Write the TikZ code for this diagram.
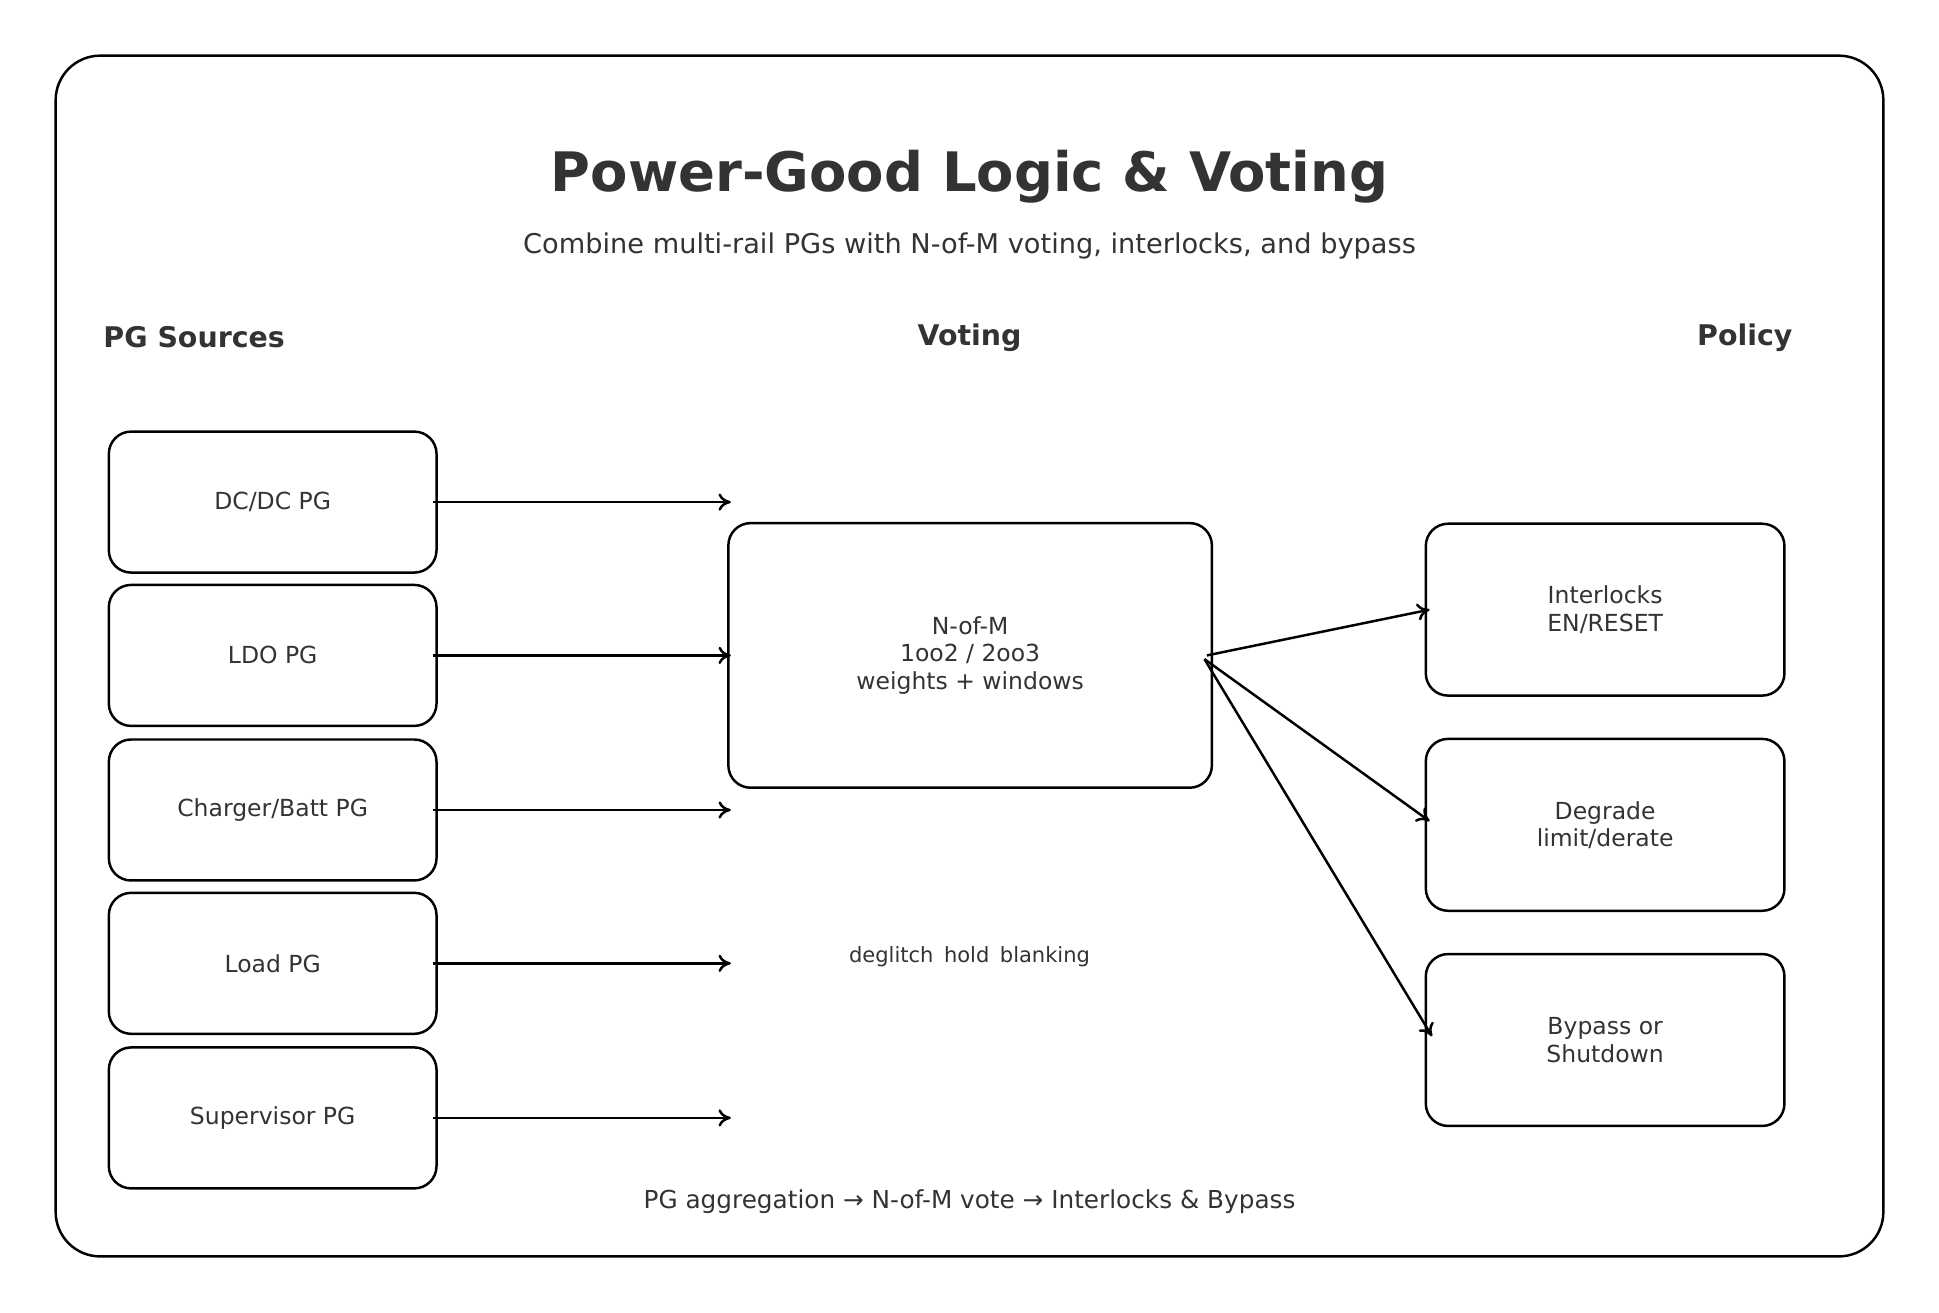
\documentclass[tikz,border=0pt]{standalone}
\usepackage{fontspec}
\setmainfont{DejaVu Sans}
\usetikzlibrary{arrows.meta}
\definecolor{txt}{HTML}{333333}
\begin{document}
\begin{tikzpicture}[x=0.5pt,y=-0.5pt,
  box/.style={draw=black,line width=1pt,rounded corners=9pt,text=txt,font=\fontsize{9.5}{11}\selectfont,align=center,inner sep=0pt},
  arr/.style={line width=1pt,-{To[length=5pt,width=7pt]}},
  lbl/.style={text=txt,align=center}]
\useasboundingbox (0,0) rectangle (1568,1061);
\fill[white] (0,0) rectangle (1568,1061);
\draw[line width=1pt,rounded corners=18pt] (45,45) rectangle (1523,1016);
\node[lbl,font=\bfseries\fontsize{22}{26}\selectfont] (title) at (784,143) {Power-Good Logic \& Voting};
\node[lbl,font=\fontsize{11}{13}\selectfont] (sub) at (784,199) {Combine multi-rail PGs with N-of-M voting, interlocks, and bypass};
\node[lbl,font=\bfseries\fontsize{11.5}{13}\selectfont] (h1) at (157,273) {PG Sources};
\node[lbl,font=\bfseries\fontsize{11.5}{13}\selectfont] (h2) at (784,273) {Voting};
\node[lbl,font=\bfseries\fontsize{11.5}{13}\selectfont] (h3) at (1411,273) {Policy};
\foreach \n/\y/\t in {s1/406/DC\slash DC PG,s2/530/LDO PG,s3/655/Charger\slash Batt PG,s4/779/Load PG,s5/904/Supervisor PG}{
  \node[box,minimum width=132.5pt,minimum height=57pt] (\n) at (220.5,\y) {\t};
  \coordinate (e\n) at (591,\y);
  \draw[arr] (350,\y) -- (e\n);
}
\node[box,minimum width=195.5pt,minimum height=107pt] (vote) at (784.5,530) {N-of-M\\1oo2 / 2oo3\\weights + windows};
\node[box,minimum width=145pt,minimum height=69.5pt] (p1) at (1298,493) {Interlocks\\EN/RESET};
\node[box,minimum width=145pt,minimum height=69.5pt] (p2) at (1298,667) {Degrade\\limit/derate};
\node[box,minimum width=145pt,minimum height=69.5pt] (p3) at (1298,841) {Bypass or\\Shutdown};
\draw[arr] (976,530) -- (1156,493);
\draw[arr] (974,533) -- (1156,664);
\draw[arr] (974,533) -- (1158,838);
\node[lbl,font=\fontsize{8.5}{10}\selectfont] (dg) at (784,774) {deglitch\enspace hold\enspace blanking};
\node[lbl,font=\fontsize{10}{12}\selectfont] (foot) at (784,972) {PG aggregation → N-of-M vote → Interlocks \& Bypass};
\end{tikzpicture}
\end{document}
